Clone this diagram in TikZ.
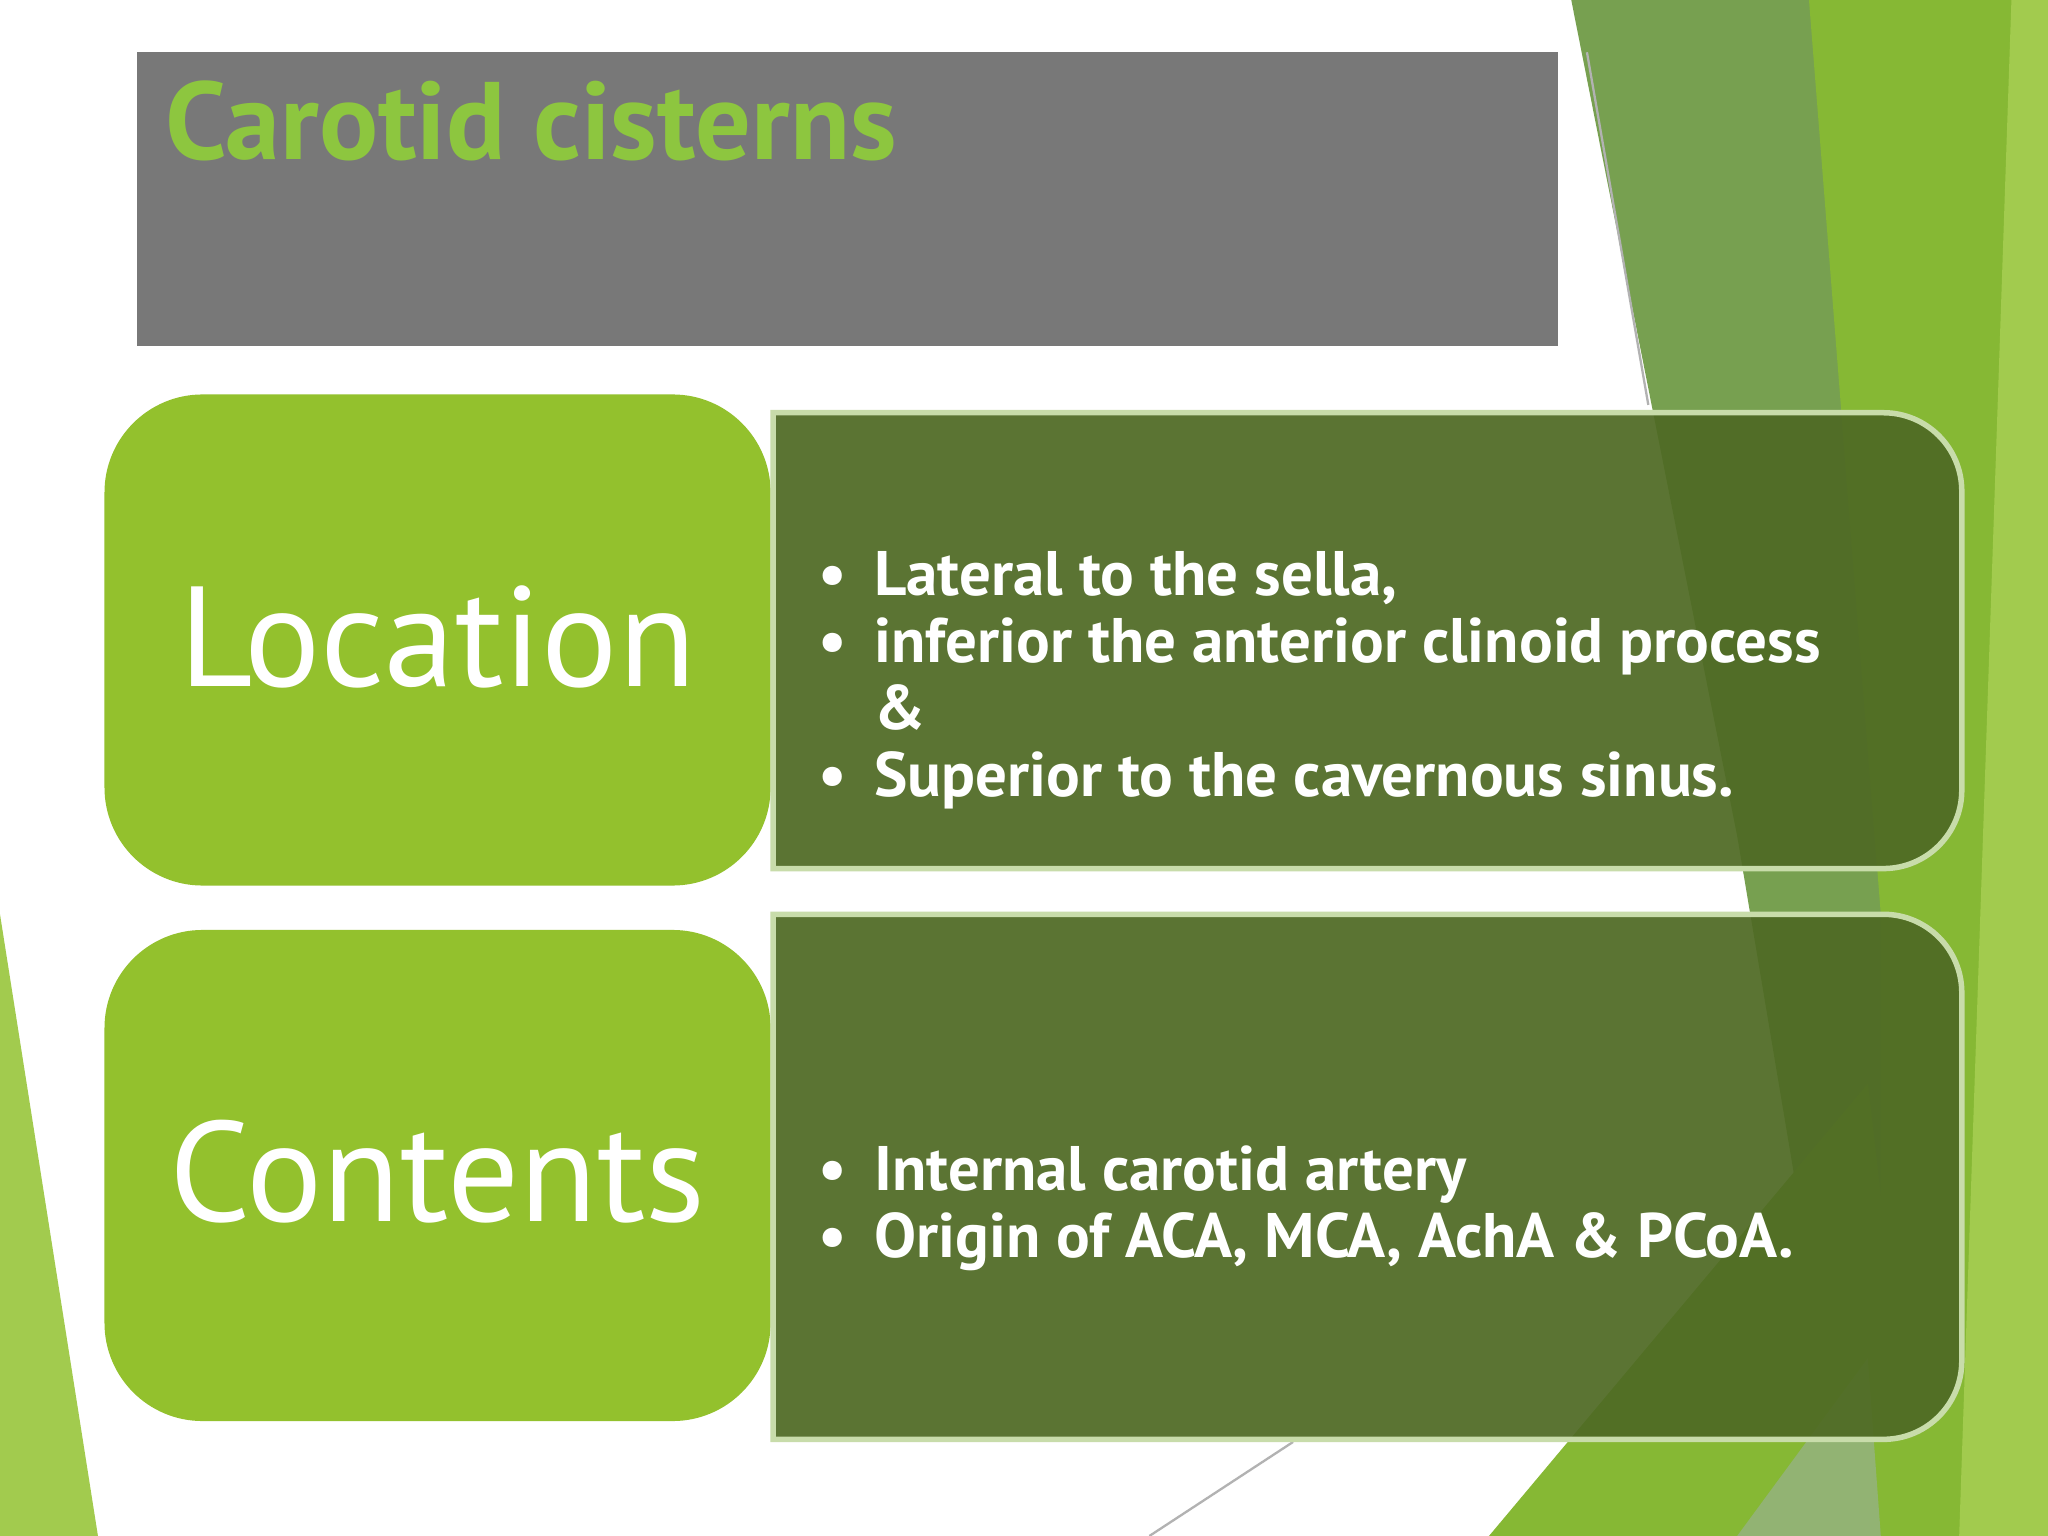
\documentclass[tikz,border=0pt]{standalone}
\usepackage{fontspec}
\setmainfont{PT Sans}
\definecolor{tgreen}{HTML}{8DC63F}
\definecolor{lbox}{HTML}{93C12D}
\definecolor{dbox}{HTML}{4F6A24}
\definecolor{dedge}{HTML}{C8DCAA}
\definecolor{g1}{HTML}{77A050}
\definecolor{g2}{HTML}{86B834}
\definecolor{g3}{HTML}{A2CB4E}
\newcommand{\bul}{\makebox[0pt][r]{\textbullet\hspace{6pt}}}
\begin{document}
\begin{tikzpicture}[x=0.01cm,y=-0.01cm,
  lefttile/.style={fill=lbox,rounded corners=75pt*0.2845},
  righttile/.style={draw=dedge,line width=1.2pt,fill=dbox,fill opacity=0.93},
  righttext/.style={text=white,font=\fontsize{13.7}{14.6}\selectfont\bfseries,anchor=west,align=left},
  bigword/.style={text=white,font=\fontsize{31}{36}\selectfont}]
\useasboundingbox (0,0) rectangle (1568,1176);
\fill[white] (0,0) rectangle (1568,1176);
% background shapes
\fill[g1] (1203,0) -- (1568,0) -- (1568,1176) -- (1420,1176) -- (1330,640) -- cycle;
\fill[g2] (1385,0) -- (1568,0) -- (1568,1176) -- (1440,1176) -- (1440,700) -- cycle;
\fill[g3] (1540,0) -- (1568,0) -- (1568,1176) -- (1500,1176) -- cycle;
\fill[g2] (1140,1176) -- (1430,830) -- (1470,1176) -- cycle;
\fill[g1!80] (1330,1176) -- (1430,1040) -- (1440,1176) -- cycle;
\fill[g3] (0,700) -- (75,1176) -- (0,1176) -- cycle;
\draw[gray!60,line width=0.5pt] (1215,40) -- (1262,310);
\draw[gray!60,line width=0.5pt] (880,1176) -- (990,1104);
% title
\fill[black!53] (105,40) rectangle (1193,265);
\node[anchor=base west,text=tgreen,font=\fontsize{24}{30}\selectfont\bfseries] (title) at (114,122) {Carotid cisterns};
% left tiles
\fill[lefttile] (80,302) rectangle (590,678);
\fill[lefttile] (80,712) rectangle (590,1088);
\node[bigword] (loc) at (335,488) {Location};
\node[bigword] (con) at (335,897) {Contents};
% right tiles
\draw[righttile]
  (592,316) -- (1442,316) arc[start angle=-90,end angle=0,radius=60] -- (1502,605) arc[start angle=0,end angle=90,radius=60] -- (592,665) -- cycle;
\draw[righttile]
  (592,700) -- (1442,700) arc[start angle=-90,end angle=0,radius=60] -- (1502,1042) arc[start angle=0,end angle=90,radius=60] -- (592,1102) -- cycle;
\node[righttext] (t1) at (657,521) {%
  \bul Lateral to the sella,\\
  \bul inferior the anterior clinoid process\\
  \&\\
  \bul Superior to the cavernous sinus.};
\node[righttext] (t2) at (657,925) {%
  \bul Internal carotid artery\\
  \bul Origin of ACA, MCA, AchA \& PCoA.};
\end{tikzpicture}
\end{document}
